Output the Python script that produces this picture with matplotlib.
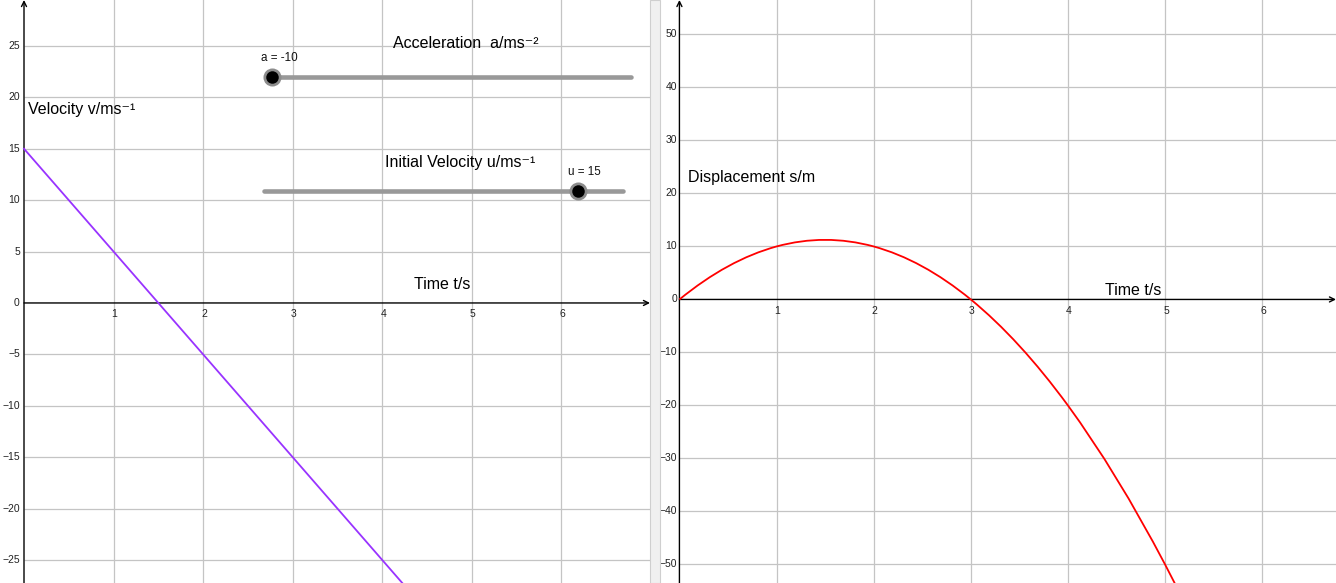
import matplotlib.pyplot as plt
from matplotlib.patches import Rectangle, PathPatch
from matplotlib.path import Path

# slider values
a = -10
u = 15
a_range = (-10, 10)
u_range = (-20, 20)

# velocity-time points
vel_t = [0, 1, 2, 3, 4, 5]
vel_v = [15, 5, -5, -15, -25, -35]

# displacement-time points
disp_t = [0, 0.5, 1, 1.5, 2, 2.5, 3, 3.5, 4, 4.5, 5, 5.5, 6]
disp_s = [0, 6.25, 10, 11.25, 10, 6.25, 0, -8.75, -20, -33.75, -50, -68.75, -90]

left_xticks = [1, 2, 3, 4, 5, 6, 7]
left_yticks = [-25, -20, -15, -10, -5, 0, 5, 10, 15, 20, 25]
right_xticks = [1, 2, 3, 4, 5, 6]
right_yticks = [-50, -40, -30, -20, -10, 0, 10, 20, 30, 40, 50]

plt.rcParams['font.family'] = ['Liberation Sans', 'DejaVu Sans']

W, H = 1336, 583
fig = plt.figure(figsize=(W / 100, H / 100), dpi=100)
ax1 = fig.add_axes([0, 0, 650 / W, 1])
ax2 = fig.add_axes([660 / W, 0, (W - 660) / W, 1])

ax1.set_xlim(-0.268, 6.99)
ax1.set_ylim(-27.24, 29.47)
ax2.set_xlim(-0.20, 6.76)
ax2.set_ylim(-53.5, 56.5)


def draw_axes(ax, xticks, yticks, ylab_off):
    ax.set_axis_off()
    x0, x1 = ax.get_xlim()
    y0, y1 = ax.get_ylim()
    for x in xticks:
        ax.axvline(x, color='#c4c4c4', lw=0.9, zorder=0)
    for y in yticks:
        if y != 0:
            ax.hlines(y, 0, x1, color='#c4c4c4', lw=0.9, zorder=0)
    arrow = dict(arrowstyle='->', color='black', lw=1.0, shrinkA=0, shrinkB=0,
                 mutation_scale=9)
    ax.annotate('', xy=(x1, 0), xytext=(0, 0), arrowprops=arrow, zorder=2)
    ax.annotate('', xy=(0, y1), xytext=(0, y0), arrowprops=arrow, zorder=2)
    for x in xticks:
        if x < x1 - 0.2:
            ax.annotate(str(x), (x, 0), xytext=(0.7, -8), textcoords='offset points',
                        ha='center', va='center', fontsize=7.5, color='#222222')
    for y in yticks:
        ax.annotate(str(y).replace('-', '\u2212'), (0, y), xytext=(ylab_off, 0),
                    textcoords='offset points', ha='right', va='center',
                    fontsize=7.5, color='#222222', zorder=2)


draw_axes(ax1, left_xticks, left_yticks, -3)
draw_axes(ax2, right_xticks, right_yticks, -1.8)

ax1.plot(vel_t, vel_v, color='#9933ff', lw=1.3, zorder=3)

# smooth curve through the read points: quadratic Bezier pieces over each triple
verts = [(disp_t[0], disp_s[0])]
codes = [Path.MOVETO]
for i in range(0, len(disp_t) - 2, 2):
    t0, t1, t2 = disp_t[i:i + 3]
    s0, s1, s2 = disp_s[i:i + 3]
    verts += [(2 * t1 - (t0 + t2) / 2, 2 * s1 - (s0 + s2) / 2), (t2, s2)]
    codes += [Path.CURVE3, Path.CURVE3]
ax2.add_patch(PathPatch(Path(verts, codes), facecolor='none', edgecolor='#ff0000',
                        lw=1.3, zorder=3))

ax1.text(0.045, 18.8, 'Velocity v/ms\u207b\u00b9', fontsize=11.5, va='center')
ax1.text(4.36, 1.75, 'Time t/s', fontsize=11.5, va='center')
ax2.text(0.09, 23.1, 'Displacement s/m', fontsize=11.5, va='center')
ax2.text(4.38, 1.75, 'Time t/s', fontsize=11.5, va='center')


def slider(ax, x0, x1, y, value, vrange, label, title, title_xy, label_xy):
    ax.plot([x0, x1], [y, y], color='#999999', lw=3.3, solid_capstyle='round', zorder=4)
    px = x0 + (value - vrange[0]) / (vrange[1] - vrange[0]) * (x1 - x0)
    ax.plot(px, y, 'o', ms=13, mew=0, color='#8c8c8c', zorder=5)
    ax.plot(px, y, 'o', ms=9, mew=0, color='black', zorder=6)
    ax.text(label_xy[0], label_xy[1], label, fontsize=8.4, va='center', color='#111111')
    ax.text(title_xy[0], title_xy[1], title, fontsize=11.5, va='center')


slider(ax1, 2.77, 6.78, 22.0, a, a_range, f'a = {a}',
       'Acceleration  a/ms\u207b\u00b2', (4.12, 25.2), (2.65, 23.8))
slider(ax1, 2.68, 6.69, 10.9, u, u_range, f'u = {u}',
       'Initial Velocity u/ms\u207b\u00b9', (4.03, 13.7), (6.07, 12.74))

# splitter between the two views
fig.patches.append(Rectangle((650 / W, 0), 10 / W, 1, transform=fig.transFigure,
                             facecolor='#f0f0f0', edgecolor='#cfcfcf', lw=0.8))

fig.savefig('out.png', dpi=100)
